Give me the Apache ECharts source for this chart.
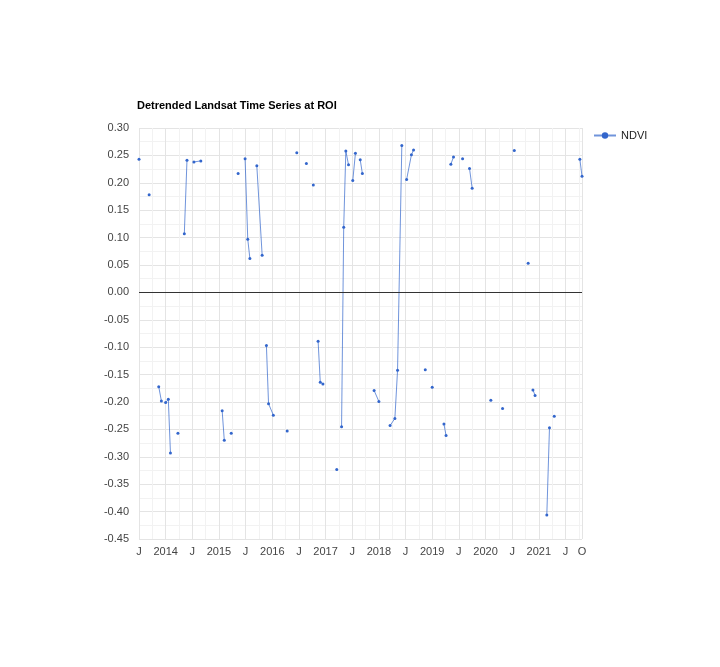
<!DOCTYPE html>
<html>
<head>
  <meta charset="utf-8" />
  <title>Detrended Landsat Time Series at ROI</title>
  <script src="https://cdn.jsdelivr.net/npm/echarts/dist/echarts.min.js"></script>
  <style>
    body { margin: 0; background: #fff; font-family: Arial, 'Liberation Sans', sans-serif; }
    #chart { width: 720px; height: 667px; }
  </style>
</head>
<body>
  <div id="chart"></div>
  <script>
    // acquisition times as decimal years, grouped into connected runs
    const runTimes = [
      [2013.5], [2013.69], [2013.87, 2013.92], [2014.00, 2014.05, 2014.09], [2014.23],
      [2014.35, 2014.40], [2014.53, 2014.66], [2015.06, 2015.10], [2015.23], [2015.36],
      [2015.49, 2015.54, 2015.58], [2015.71, 2015.81], [2015.89, 2015.93, 2016.02],
      [2016.28], [2016.46], [2016.64], [2016.77], [2016.86, 2016.90, 2016.95], [2017.21],
      [2017.30, 2017.34, 2017.38, 2017.43], [2017.51, 2017.56], [2017.65, 2017.69],
      [2017.91, 2018.00], [2018.21, 2018.30, 2018.35, 2018.43], [2018.52, 2018.61, 2018.65],
      [2018.87], [2019.00], [2019.22, 2019.26], [2019.35, 2019.40], [2019.57],
      [2019.70, 2019.75], [2020.10], [2020.32], [2020.54], [2020.80], [2020.89, 2020.93],
      [2021.15, 2021.20], [2021.29], [2021.77, 2021.81]
    ];
    const runNdvi = [
      [0.243], [0.178], [-0.172, -0.198], [-0.201, -0.195, -0.293], [-0.257],
      [0.107, 0.241], [0.238, 0.240], [-0.216, -0.270], [-0.257], [0.217],
      [0.244, 0.097, 0.062], [0.231, 0.068], [-0.097, -0.203, -0.224],
      [-0.253], [0.255], [0.235], [0.196], [-0.089, -0.164, -0.167], [-0.323],
      [-0.245, 0.119, 0.258, 0.233], [0.204, 0.254], [0.242, 0.217],
      [-0.179, -0.199], [-0.243, -0.230, -0.142, 0.268], [0.206, 0.251, 0.260],
      [-0.141], [-0.173], [-0.240, -0.261], [0.234, 0.247], [0.244],
      [0.226, 0.190], [-0.197], [-0.212], [0.259], [0.053], [-0.178, -0.188],
      [-0.406, -0.247], [-0.226], [0.243, 0.212]
    ];

    const seriesData = [];
    runTimes.forEach((run, i) => {
      if (i > 0) seriesData.push([run[0] - 0.001, null]);
      run.forEach((t, j) => seriesData.push([t, runNdvi[i][j]]));
    });

    const chart = echarts.init(document.getElementById('chart'));
    const font = 'Arial, "Liberation Sans", sans-serif';
    chart.setOption({
      animation: false,
      textStyle: { fontFamily: font },
      title: {
        text: 'Detrended Landsat Time Series at ROI',
        left: 132, top: 95,
        textStyle: { fontSize: 11, fontWeight: 'bold', color: '#000', fontFamily: font }
      },
      legend: {
        data: ['NDVI'], left: 588, top: 125, itemWidth: 22, itemHeight: 8, itemGap: 4,
        textStyle: { fontSize: 11, color: '#222' }
      },
      grid: { left: 139, top: 128, width: 443, height: 411 },
      xAxis: {
        type: 'value', min: 2013.5, max: 2021.81, interval: 0.5,
        axisLine: { show: false }, axisTick: { show: false },
        splitLine: { lineStyle: { color: '#e4e4e4' } },
        minorTick: { show: false, splitNumber: 2 },
        minorSplitLine: { show: true, lineStyle: { color: '#f2f2f2' } },
        axisLabel: {
          color: '#444', fontSize: 11, margin: 7, showMaxLabel: true,
          formatter: v => {
            if (v > 2021.7) return 'O';
            return Math.abs(v - Math.round(v)) < 0.01 ? String(Math.round(v)) : 'J';
          }
        }
      },
      yAxis: {
        type: 'value', min: -0.45, max: 0.30, interval: 0.05,
        axisLine: { show: false }, axisTick: { show: false },
        splitLine: { lineStyle: { color: '#e4e4e4' } },
        minorTick: { show: false, splitNumber: 2 },
        minorSplitLine: { show: true, lineStyle: { color: '#f2f2f2' } },
        axisLabel: { color: '#444', fontSize: 11, margin: 10, formatter: v => v.toFixed(2) }
      },
      series: [{
        name: 'NDVI', type: 'line', data: seriesData, connectNulls: false,
        symbol: 'circle', symbolSize: 3, showAllSymbol: true,
        itemStyle: { color: '#3366cc' },
        lineStyle: { color: '#3366cc', width: 1, opacity: 0.7 },
        markLine: {
          silent: true, symbol: 'none', label: { show: false },
          lineStyle: { color: '#333', width: 1, type: 'solid' },
          data: [{ yAxis: 0 }]
        }
      }]
    });
  </script>
</body>
</html>
